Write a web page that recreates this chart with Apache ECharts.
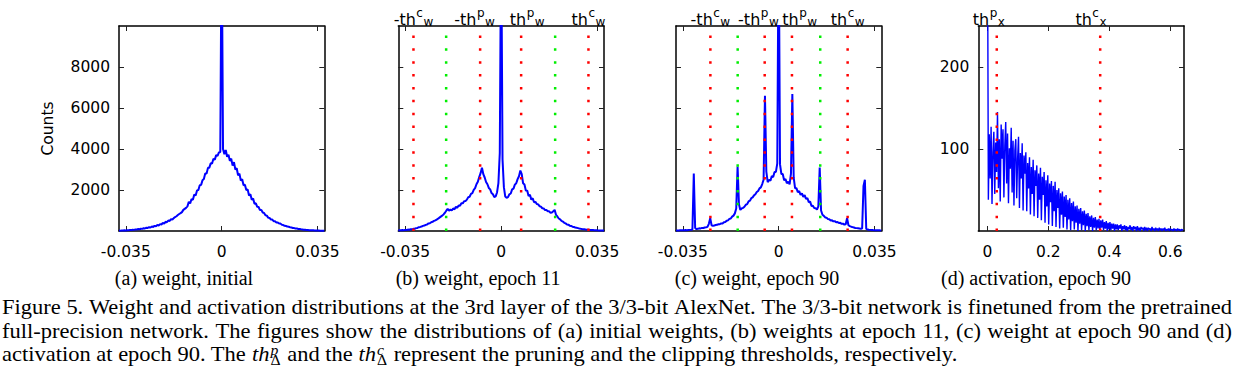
<!DOCTYPE html>
<html>
<head>
<meta charset="utf-8">
<script src="https://cdn.jsdelivr.net/npm/echarts@6.0.0/dist/echarts.min.js"></script>
<style>
html,body{margin:0;padding:0;background:#fff;}
#c{width:1234px;height:380px;}
</style>
</head>
<body>
<div id="c"></div>
<script>
// ---------------- DATA ----------------
// weight histograms: bins every 0.0005 from -0.0375 to 0.0375
const weightBinStart = -0.0375;
const weightBinStep = 0.0005;
const countsInitial = [
22,18,30,25,34,28,40,36,50,44,
62,55,78,70,95,88,112,104,135,122,
160,150,185,172,215,200,250,232,290,270,
335,320,390,365,450,430,510,490,580,555,
630,680,720,780,830,870,920,1030,1080,1130,
1200,1420,1350,1560,1520,1780,1730,1980,2000,2230,
2250,2480,2540,2800,2800,3080,3090,3300,3290,3520,
3480,3700,3660,3830,3850,15000,4000,3750,3950,3620,
3720,3420,3530,3190,3360,3000,3060,2720,2800,2460,
2520,2230,2260,2000,2030,1730,1790,1530,1580,1330,
1350,1180,1170,1020,1030,900,880,770,750,650,
640,560,560,480,480,420,420,360,360,300,
290,255,245,215,205,185,170,150,142,122,
118,100,96,82,78,66,62,54,50,42,
40,34,31,27,25,22,20,17,16,14,
12];
const countsEpoch11 = [
30,38,35,45,42,55,50,68,62,85,
80,105,110,140,150,185,200,220,250,265,
300,320,370,380,430,450,490,520,560,600,
650,700,750,810,890,990,1080,990,1050,1000,
1100,1060,1180,1130,1250,1230,1350,1350,1450,1460,
1530,1650,1670,1810,1850,2010,2090,2280,2400,2630,
2820,3090,2770,2610,2390,2280,2100,2030,1850,1790,
1660,1690,1880,2340,3800,15000,3500,2140,1680,1620,
1650,1790,1830,2030,2070,2260,2330,2530,2670,2950,
2770,2330,2270,1980,1970,1710,1770,1530,1600,1400,
1420,1320,1300,1210,1190,1110,1100,1020,1020,960,
960,890,900,960,1030,790,710,610,570,490,
460,400,370,320,310,260,245,210,200,170,
155,140,125,112,100,90,80,72,65,58,
52,47,43,39,35,32,30,27,25,23,
21];
const countsEpoch90 = [
25,30,28,35,32,40,38,45,42,50,
55,60,70,2800,150,90,110,130,125,150,
145,170,180,200,350,620,280,250,270,290,
300,330,330,370,370,430,440,500,520,590,
610,700,750,860,1100,3140,1300,1030,1100,1130,
1180,1280,1310,1440,1480,1600,1640,1740,1790,1900,
1950,2080,2130,2290,2500,6600,2900,2380,2500,2450,
2680,2630,2880,2880,3300,15000,3250,2780,2780,2480,
2540,2330,2410,2280,2800,6680,2600,2090,2090,1890,
1950,1760,1830,1660,1750,1560,1610,1400,1440,1220,
1230,1120,1110,1050,1200,3090,1000,790,740,660,
650,580,570,510,520,470,480,430,440,390,
400,350,360,310,330,620,280,240,210,190,
170,150,140,130,120,110,120,2200,2500,100,
70,60,55,50,45,42,40,38,35,32,
30];
// activation histogram: bins every 0.003 from 0 to 0.642
const actBinStart = 0;
const actBinStep = 0.003;
const actCounts = [
400,
38,118,64,127,33,96,121,45,108,72,
145,52,112,36,130,88,124,41,104,133,
58,119,34,101,76,126,47,110,31,98,
112,40,88,115,28,95,64,107,25,92,
70,96,24,83,52,90,20,78,45,87,
18,74,55,80,16,70,38,77,13,66,
44,72,10,62,30,68,8,58,35,61,
6,55,24,60,5,50,28,52,3,46,
20,48,4,42,17,44,2,38,14,40,
1,34,12,36,2,30,10,31,0,27,
9,28,1,24,7,25,0,21,6,22,
1,18,5,19,0,16,4,17,1,14,
3,15,0,13,4,14,1,11,3,12,
0,10,2,11,1,9,3,9,0,8,
2,8,1,7,3,8,0,6,2,7,
1,6,0,5,2,7,1,5,0,6,
2,5,0,6,1,4,0,5,2,4,
0,5,1,4,0,4,2,3,0,5,
1,3,0,4,1,3,0,4,1,3,
0,3,1,4,0,2,1,3,0,3,
1,2,0,3,1,2,0,3,1,2,
0,2,1,2];

// thresholds (x positions of dotted lines)
const th11Red = [-0.03197, -0.00766, 0.00729, 0.03183];
const th11Green = [-0.02005, 0.01969];
const th90Red = [-0.02494, -0.0051, 0.00486, 0.0252];
const th90Green = [-0.01497, 0.01519];
const thActRed = [0.0306, 0.370];

// top (x2) tick labels
const th11LabelPos = [-0.03197, -0.0097, 0.0095, 0.03183];
const th90LabelPos = [-0.02494, -0.0074, 0.0077, 0.0252];
const thActLabelPos = [0.0046, 0.3397];
const thWeightLabels = [['-th','c','w'], ['-th','p','w'], ['th','p','w'], ['th','c','w']];
const thActLabels = [['th','p','x'], ['th','c','x']];

// axis ticks
const weightTicks = [-0.035, 0, 0.035];
const actTicks = [0, 0.2, 0.4, 0.6];
const countTicks = [2000, 4000, 6000, 8000];
const actCountTicks = [100, 200];

const subCaptions = ['(a) weight, initial', '(b) weight, epoch 11', '(c) weight, epoch 90', '(d) activation, epoch 90'];
const captionLine1 = 'Figure 5. Weight and activation distributions at the 3rd layer of the 3/3-bit AlexNet. The 3/3-bit network is finetuned from the pretrained';
const captionLine2 = 'full-precision network. The figures show the distributions of (a) initial weights, (b) weights at epoch 11, (c) weight at epoch 90 and (d)';
const captionLine3a = 'activation at epoch 90. The ';
const captionLine3b = ' and the ';
const captionLine3c = ' represent the pruning and the clipping thresholds, respectively.';

// ---------------- CHART ----------------
function toPairs(start, step, arr) {
  return arr.map((v, i) => [+(start + i * step).toFixed(6), v]);
}
const AX_FONT = 'DejaVu Sans';
const AX_SIZE = 15.5;

const grids = [
  {left: 119, top: 26, width: 205.3, height: 205},
  {left: 398.3, top: 26, width: 205.7, height: 205},
  {left: 676, top: 26, width: 205.3, height: 205},
  {left: 978.3, top: 26, width: 205.7, height: 205}
];
const xRange = [[-0.0375, 0.0375], [-0.0375, 0.0375], [-0.0375, 0.0375], [-0.03, 0.645]];
const yRange = [[0, 10000], [0, 10000], [0, 10000], [0, 250]];
const xTicks = [weightTicks, weightTicks, weightTicks, actTicks];
const yTicks = [countTicks, countTicks, countTicks, actCountTicks];
const yLabelShow = [true, false, false, true];

const lineStyleAxis = {color: '#000', width: 1.5};
const tickStyle = {color: '#222', width: 1};

const xAxes = [], yAxes = [];
for (let i = 0; i < 4; i++) {
  xAxes.push({
    type: 'value', gridIndex: i, position: 'bottom', min: xRange[i][0], max: xRange[i][1],
    axisLine: {show: true, onZero: false, lineStyle: lineStyleAxis},
    axisTick: {show: true, inside: true, length: 5, customValues: xTicks[i], lineStyle: tickStyle},
    axisLabel: {show: true, customValues: xTicks[i], margin: 13, fontFamily: AX_FONT, fontSize: AX_SIZE, color: '#000',
      formatter: v => String(v)},
    splitLine: {show: false}
  });
}
for (let i = 0; i < 4; i++) {
  xAxes.push({
    type: 'value', gridIndex: i, position: 'top', min: xRange[i][0], max: xRange[i][1],
    axisLine: {show: true, onZero: false, lineStyle: lineStyleAxis},
    axisTick: {show: true, inside: true, length: 5, customValues: xTicks[i], lineStyle: tickStyle},
    axisLabel: {show: false},
    splitLine: {show: false}
  });
}
for (let i = 0; i < 4; i++) {
  yAxes.push({
    type: 'value', gridIndex: i, position: 'left', min: yRange[i][0], max: yRange[i][1],
    axisLine: {show: true, onZero: false, lineStyle: lineStyleAxis},
    axisTick: {show: true, inside: true, length: 5, customValues: yTicks[i], lineStyle: tickStyle},
    axisLabel: {show: yLabelShow[i], customValues: yTicks[i], margin: 9, fontFamily: AX_FONT, fontSize: AX_SIZE, color: '#000',
      formatter: v => String(v)},
    splitLine: {show: false}
  });
}
for (let i = 0; i < 4; i++) {
  yAxes.push({
    type: 'value', gridIndex: i, position: 'right', min: yRange[i][0], max: yRange[i][1],
    axisLine: {show: true, onZero: false, lineStyle: lineStyleAxis},
    axisTick: {show: true, inside: true, length: 5, customValues: yTicks[i], lineStyle: tickStyle},
    axisLabel: {show: false},
    splitLine: {show: false}
  });
}

const histData = [
  toPairs(weightBinStart, weightBinStep, countsInitial),
  toPairs(weightBinStart, weightBinStep, countsEpoch11),
  toPairs(weightBinStart, weightBinStep, countsEpoch90),
  toPairs(actBinStart, actBinStep, actCounts)
];
const series = [];
for (let i = 0; i < 4; i++) {
  series.push({
    type: 'line', xAxisIndex: i, yAxisIndex: i, data: histData[i],
    symbol: 'none', showSymbol: false, clip: true, z: 2,
    lineStyle: {color: '#0000ff', width: i === 3 ? 1.4 : 2},
    emphasis: {disabled: true}, animation: false
  });
}
function thresholdSeries(gi, xs, color, ymax) {
  xs.forEach(x => {
    series.push({
      type: 'line', xAxisIndex: gi, yAxisIndex: gi, data: [[x, 0], [x, ymax]],
      symbol: 'none', showSymbol: false, z: 3, silent: true,
      lineStyle: {color: color, width: 2.5, type: [2.5, 10.37], cap: 'butt'},
      animation: false
    });
  });
}
thresholdSeries(1, th11Red, '#ff0000', 10000);
thresholdSeries(1, th11Green, '#00ee00', 10000);
thresholdSeries(2, th90Red, '#ff0000', 10000);
thresholdSeries(2, th90Green, '#00ee00', 10000);
thresholdSeries(3, thActRed, '#ff0000', 250);

const chart = echarts.init(document.getElementById('c'), null, {renderer: 'svg', width: 1234, height: 380});
chart.setOption({
  backgroundColor: '#fff',
  animation: false,
  grid: grids,
  xAxis: xAxes,
  yAxis: yAxes,
  series: series
});

// ---------------- TEXT (labels & captions) ----------------
const ctx = document.createElement('canvas').getContext('2d');
function tw(font, s) { ctx.font = font; return ctx.measureText(s).width; }
const G = [];
function txt(x, y, s, font, align, extra, styleExtra) {
  G.push(Object.assign({type: 'text', x: x, y: y, silent: true,
    style: Object.assign({text: s, font: font, fill: '#000', align: align || 'left', verticalAlign: 'middle'}, styleExtra || {})},
    extra || {}));
}

// "Counts"
txt(48, 128.5, 'Counts', AX_SIZE + 'px "DejaVu Sans"', 'center', {rotation: Math.PI / 2});

// threshold labels on top: main text, raised superscript, lowered subscript (side by side)
const mainFont = '16px "DejaVu Sans"';
const scrFont = '12px "DejaVu Sans"';
function thLabel(axisIdx, pos, lab) {
  const cx = chart.convertToPixel({xAxisIndex: axisIdx}, pos);
  const wm = tw(mainFont, lab[0]);
  const w1 = tw(scrFont, lab[1]);
  const w2 = tw(scrFont, lab[2]);
  const total = wm + w1 + w2 + 1;
  const left = cx - total / 2;
  txt(left, 19.5, lab[0], mainFont);
  txt(left + wm + 0.5, 12.6, lab[1], scrFont);
  txt(left + wm + w1 + 1, 21.8, lab[2], scrFont);
}
th11LabelPos.forEach((p, k) => thLabel(1, p, thWeightLabels[k]));
th90LabelPos.forEach((p, k) => thLabel(2, p, thWeightLabels[k]));
thActLabelPos.forEach((p, k) => thLabel(3, p, thActLabels[k]));

// sub captions
const subFont = '20px "Liberation Serif"';
const subCapX = [184, 478, 757, 1036];
subCaptions.forEach((s, k) => txt(subCapX[k], 278.3, s, subFont, 'center'));

// caption (justified), slightly condensed vertically
const CAP = 22.5, SY = 0.9;
const capFont = CAP + 'px "Liberation Serif"';
function justify(line, x0, x1, y) {
  const words = line.split(' ');
  const ws = words.map(w => tw(capFont, w));
  const total = ws.reduce((a, b) => a + b, 0);
  const gap = (x1 - x0 - total) / (words.length - 1);
  let x = x0;
  words.forEach((w, k) => { txt(x, y, w, capFont, 'left', {scaleY: SY}); x += ws[k] + gap; });
}
justify(captionLine1, 2, 1232, 307.2);
justify(captionLine2, 2, 1232, 331);

// line 3 with math
(function () {
  const y = 354.8;
  const itFont = 'italic ' + CAP + 'px "Liberation Serif"';
  const supF = 'italic ' + (CAP * 0.7).toFixed(2) + 'px "Liberation Serif"';
  const subF = (CAP * 0.7).toFixed(2) + 'px "Liberation Serif"';
  let x = 2;
  function math(sup) {
    txt(x, y, 'th', itFont, 'left', {scaleY: SY}); x += tw(itFont, 'th') + 1;
    txt(x, 355.2, '{a|' + sup + '}\n{b|\u0394}', subF, 'left', {scaleY: SY},
      {rich: {a: {font: supF, lineHeight: 11.5}, b: {font: subF, lineHeight: 11.5}}});
    x += Math.max(tw(supF, sup), tw(subF, '\u0394')) + 1;
  }
  txt(x, y, captionLine3a, capFont, 'left', {scaleY: SY}); x += tw(capFont, captionLine3a);
  math('p');
  txt(x, y, captionLine3b, capFont, 'left', {scaleY: SY}); x += tw(capFont, captionLine3b);
  math('c');
  txt(x, y, captionLine3c, capFont, 'left', {scaleY: SY});
})();

chart.setOption({graphic: {elements: G}});
</script>
</body>
</html>
